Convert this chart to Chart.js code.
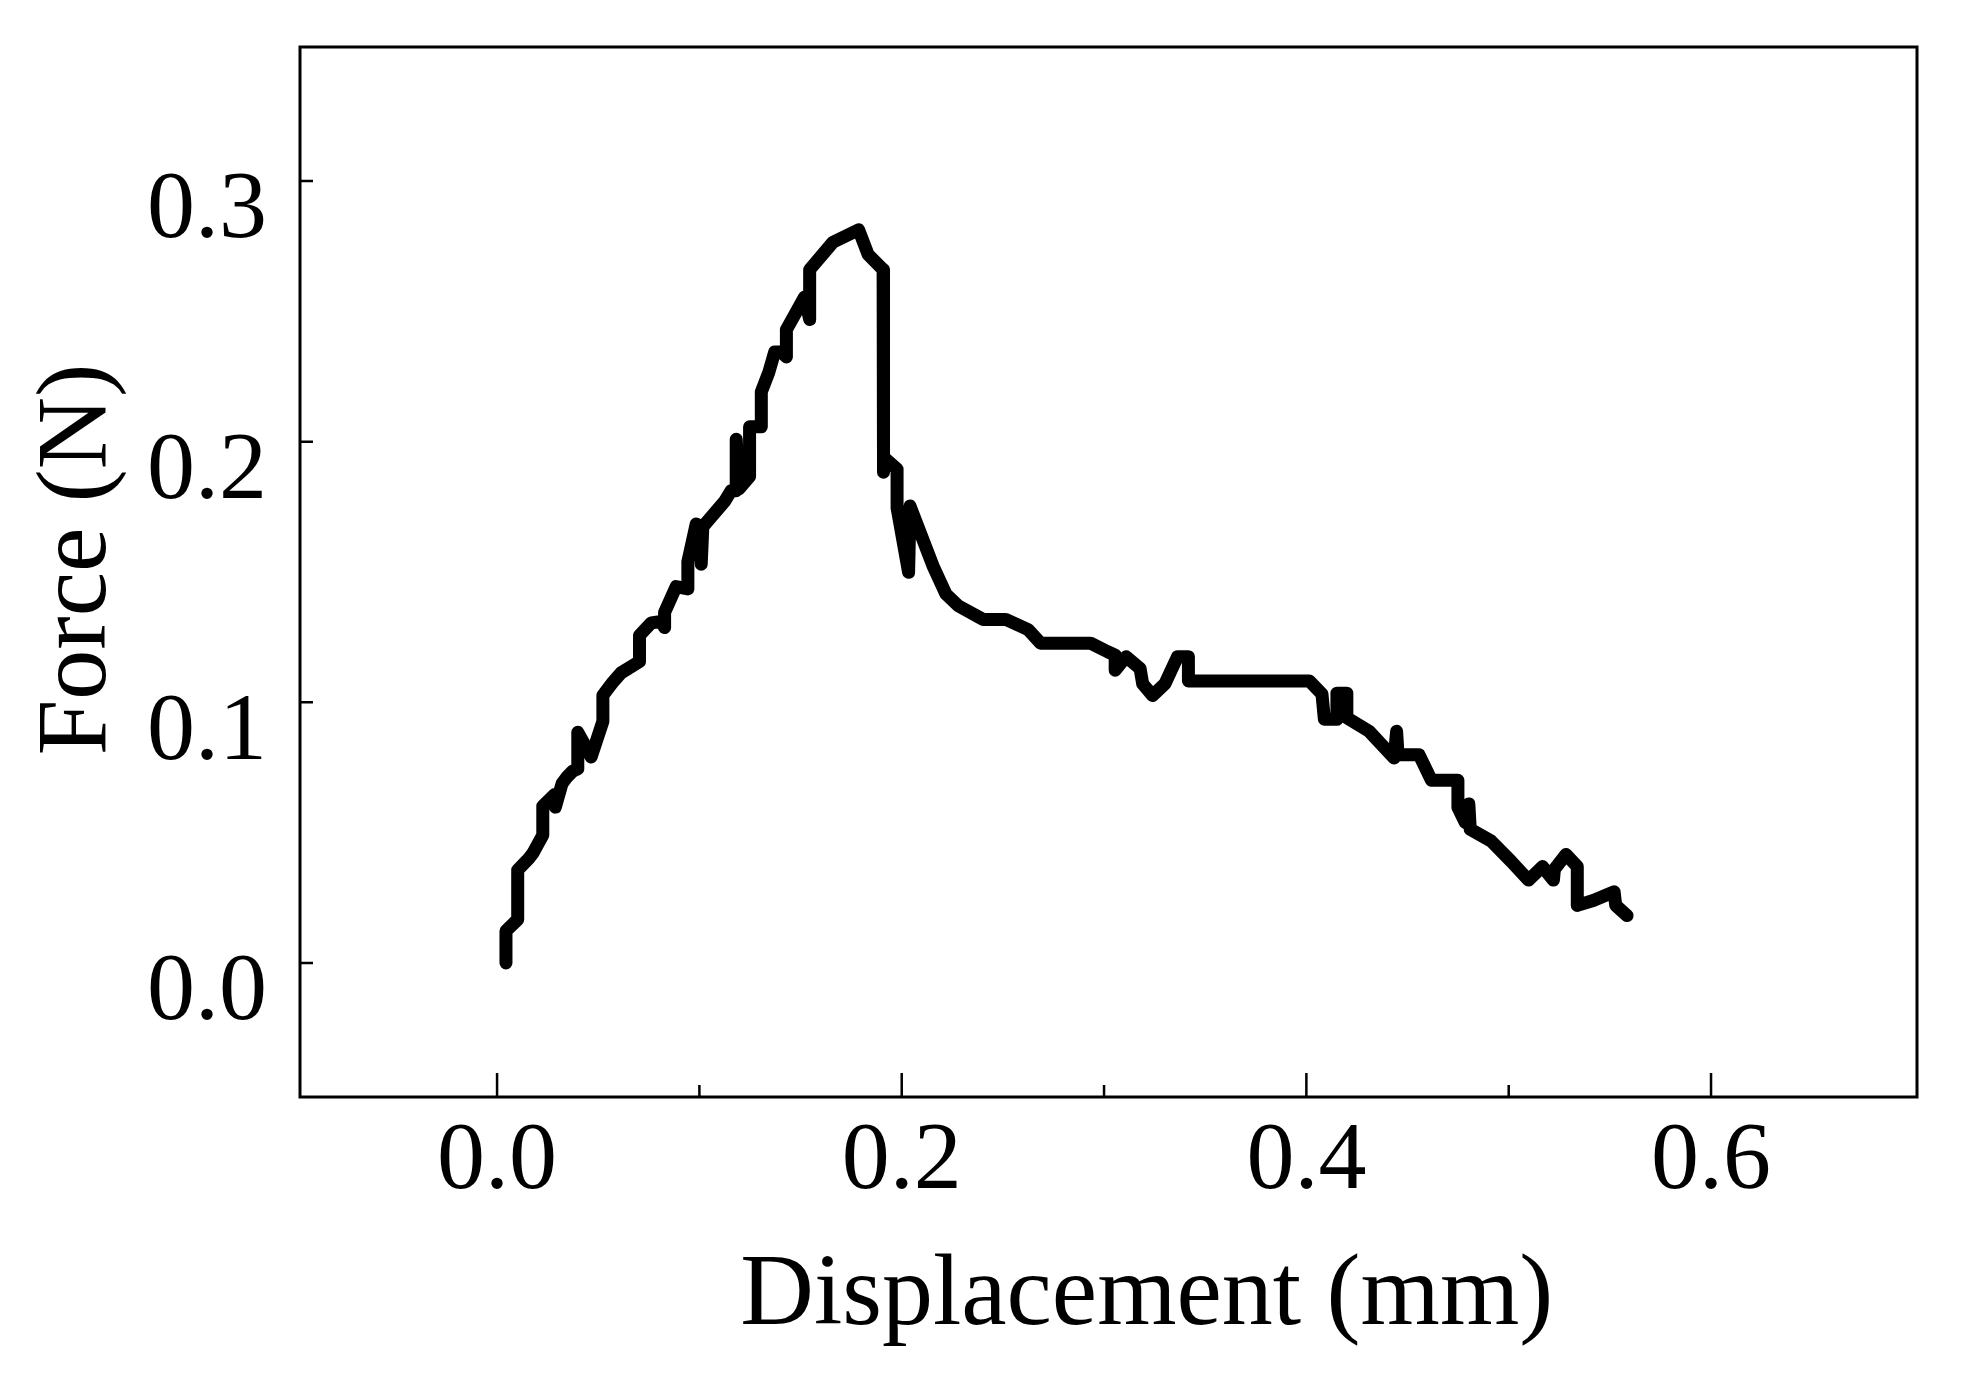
<!DOCTYPE html>
<html>
<head>
<meta charset="utf-8">
<script src="https://cdn.jsdelivr.net/npm/chart.js@4/dist/chart.umd.min.js"></script>
<style>
html,body{margin:0;padding:0;background:#ffffff;}
#wrap{width:1970px;height:1375px;}
</style>
</head>
<body>
<div id="wrap"><canvas id="c" width="1970" height="1375"></canvas></div>
<script>
// Displacement (mm) and Force (N)
const displacement = [
  0.0044, 0.0044, 0.0102, 0.0102, 0.0157, 0.0176, 0.0226, 0.0226, 0.0284, 0.0288,
  0.0321, 0.0345, 0.0374, 0.0399, 0.0399, 0.0437, 0.0465, 0.0523, 0.0523, 0.0547,
  0.0572, 0.0613, 0.0704, 0.0704, 0.0762, 0.0811, 0.0828, 0.0828, 0.0885, 0.0943,
  0.0943, 0.0984, 0.1009, 0.1009, 0.1017, 0.1124, 0.1157, 0.1182, 0.1182, 0.1195,
  0.1248, 0.1248, 0.1306, 0.1306, 0.1344, 0.1372, 0.1405, 0.1430, 0.1430, 0.1520,
  0.1545, 0.1545, 0.1660, 0.1787, 0.1834, 0.1908, 0.1908, 0.1912, 0.1977, 0.1977,
  0.2034, 0.2041, 0.2157, 0.2219, 0.2280, 0.2403, 0.2514, 0.2625, 0.2686, 0.2933,
  0.3018, 0.3055, 0.3055, 0.3109, 0.3178, 0.3191, 0.3240, 0.3301, 0.3363, 0.3417,
  0.3417, 0.4015, 0.4077, 0.4089, 0.4151, 0.4151, 0.4200, 0.4200, 0.4310, 0.4434,
  0.4446, 0.4453, 0.4557, 0.4618, 0.4749, 0.4749, 0.4785, 0.4803, 0.4810, 0.4913,
  0.5012, 0.5098, 0.5167, 0.5221, 0.5226, 0.5283, 0.5339, 0.5339, 0.5418, 0.5521,
  0.5529, 0.5585
];
const force = [
  0.0000, 0.0123, 0.0167, 0.0357, 0.0401, 0.0420, 0.0491, 0.0602, 0.0646, 0.0598,
  0.0688, 0.0713, 0.0736, 0.0745, 0.0885, 0.0832, 0.0790, 0.0927, 0.1027, 0.1052,
  0.1077, 0.1113, 0.1157, 0.1257, 0.1305, 0.1310, 0.1287, 0.1345, 0.1444, 0.1435,
  0.1540, 0.1684, 0.1674, 0.1530, 0.1674, 0.1770, 0.1812, 0.1812, 0.2009, 0.1818,
  0.1866, 0.2057, 0.2057, 0.2191, 0.2268, 0.2344, 0.2344, 0.2325, 0.2430, 0.2555,
  0.2469, 0.2660, 0.2765, 0.2813, 0.2718, 0.2660, 0.1883, 0.1941, 0.1895, 0.1746,
  0.1499, 0.1753, 0.1519, 0.1415, 0.1370, 0.1318, 0.1318, 0.1279, 0.1227, 0.1227,
  0.1194, 0.1181, 0.1123, 0.1175, 0.1130, 0.1071, 0.1026, 0.1071, 0.1175, 0.1175,
  0.1082, 0.1082, 0.1032, 0.0935, 0.0935, 0.1035, 0.1035, 0.0941, 0.0889, 0.0786,
  0.0889, 0.0799, 0.0799, 0.0701, 0.0701, 0.0597, 0.0539, 0.0610, 0.0513, 0.0468,
  0.0390, 0.0318, 0.0370, 0.0318, 0.0360, 0.0416, 0.0370, 0.0221, 0.0240, 0.0273,
  0.0221, 0.0182
];
const xLabelTicks = [0.0, 0.2, 0.4, 0.6];
const xMinorTicks = [0.1, 0.3, 0.5];
const yTicks = [0.0, 0.1, 0.2, 0.3];
const xRange = [-0.0974, 0.7018];
const yRange = [-0.0514, 0.3514];
const xTitle = 'Displacement (mm)';
const yTitle = 'Force (N)';

const points = displacement.map((x, i) => ({ x: x, y: force[i] }));

Chart.defaults.font.family = "'Liberation Serif', 'Times New Roman', serif";
Chart.defaults.color = '#000000';

const framePlugin = {
  id: 'frame',
  afterDraw(chart) {
    const ctx = chart.ctx;
    const a = chart.chartArea;
    const xs = chart.scales.x;
    const ys = chart.scales.y;
    ctx.save();
    ctx.strokeStyle = '#000000';
    ctx.lineWidth = 3;
    ctx.strokeRect(a.left, a.top, a.right - a.left, a.bottom - a.top);
    ctx.lineWidth = 2.5;
    ctx.beginPath();
    yTicks.forEach(v => {
      const y = ys.getPixelForValue(v);
      ctx.moveTo(a.left, y);
      ctx.lineTo(a.left + 13, y);
    });
    xLabelTicks.forEach(v => {
      const x = xs.getPixelForValue(v);
      ctx.moveTo(x, a.bottom);
      ctx.lineTo(x, a.bottom - 24);
    });
    xMinorTicks.forEach(v => {
      const x = xs.getPixelForValue(v);
      ctx.moveTo(x, a.bottom);
      ctx.lineTo(x, a.bottom - 12);
    });
    ctx.stroke();
    ctx.restore();
  }
};

new Chart(document.getElementById('c'), {
  type: 'scatter',
  data: {
    datasets: [{
      data: points,
      showLine: true,
      borderColor: '#000000',
      backgroundColor: '#000000',
      borderWidth: 13,
      pointRadius: 0,
      pointHoverRadius: 0,
      tension: 0,
      borderJoinStyle: 'round',
      borderCapStyle: 'round',
      fill: false
    }]
  },
  options: {
    responsive: false,
    animation: false,
    devicePixelRatio: 1,
    layout: { padding: { top: 47, right: 53, left: 0, bottom: 0 } },
    plugins: { legend: { display: false }, tooltip: { enabled: false } },
    scales: {
      x: {
        type: 'linear',
        min: xRange[0],
        max: xRange[1],
        afterBuildTicks: s => { s.ticks = xLabelTicks.map(v => ({ value: v })); },
        afterFit: s => { s.height = 278; s.paddingLeft = 0; s.paddingRight = 0; },
        grid: { display: false, drawTicks: false },
        border: { display: false },
        ticks: {
          autoSkip: false,
          maxRotation: 0,
          padding: 8,
          color: '#000000',
          font: { size: 96 },
          callback: v => Number(v).toFixed(1)
        },
        title: {
          display: true,
          text: '\u00A0\u00A0\u00A0' + xTitle,
          color: '#000000',
          font: { size: 102 },
          padding: { top: 0, bottom: 17 }
        }
      },
      y: {
        type: 'linear',
        min: yRange[0],
        max: yRange[1],
        afterBuildTicks: s => { s.ticks = yTicks.map(v => ({ value: v })); },
        afterFit: s => { s.width = 300; s.paddingTop = 0; s.paddingBottom = 0; },
        grid: { display: false, drawTicks: false },
        border: { display: false },
        ticks: {
          autoSkip: false,
          padding: 33,
          labelOffset: 31,
          color: '#000000',
          font: { size: 96 },
          callback: v => Number(v).toFixed(1)
        },
        title: {
          display: true,
          text: '\u00A0' + yTitle,
          color: '#000000',
          font: { size: 100 },
          padding: { top: 19, bottom: 0 }
        }
      }
    }
  },
  plugins: [framePlugin]
});
</script>
</body>
</html>
